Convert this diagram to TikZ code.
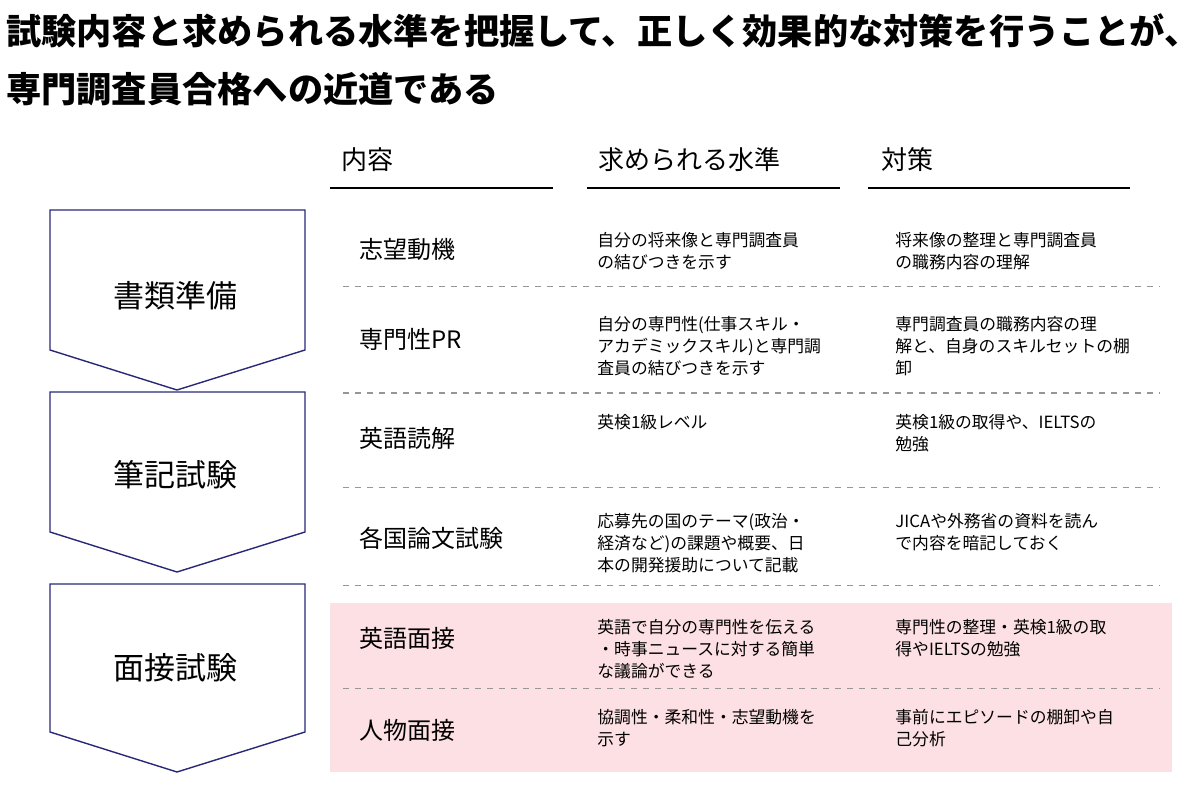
\documentclass[tikz,border=0pt]{standalone}
\usepackage{fontspec}
\setmainfont{Noto Sans CJK JP}
\usetikzlibrary{positioning}
\definecolor{navycolor}{RGB}{40, 40, 120}
\definecolor{pinkcolor}{RGB}{253, 224, 227}
\definecolor{rulecolor}{RGB}{150, 150, 150}
\tikzset{
  chev/.style={draw=navycolor, line width=0.7pt, fill=white},
  head/.style={anchor=west, font=\fontsize{13}{15}\selectfont},
  item/.style={anchor=west, font=\fontsize{12}{15}\selectfont},
  step label/.style={anchor=center, font=\fontsize{15.5}{18}\selectfont},
  desc/.style={anchor=north west, align=left, font=\fontsize{8.4}{11}\selectfont, inner sep=0pt},
  sep/.style={draw=rulecolor, dashed, line width=0.5pt}
}
\begin{document}
\begin{tikzpicture}[x=0.5pt, y=-0.5pt]
    \useasboundingbox (0,0) rectangle (1200,786);
    % Title
    \node[anchor=west, inner sep=0pt, font=\fontsize{17.6}{20}\selectfont\bfseries] (t1) at (6,31) {試験内容と求められる水準を把握して、正しく効果的な対策を行うことが、};
    \node[anchor=west, inner sep=0pt, font=\fontsize{17.6}{20}\selectfont\bfseries] (t2) at (6,89) {専門調査員合格への近道である};
    
    % Highlight
    \fill[pinkcolor] (330,603) rectangle (1172,772);
    
    % Headers
    \node[head] (h1) at (334,160) {内容};
    \node[head] (h2) at (591,160) {求められる水準};
    \node[head] (h3) at (874,160) {対策};
    \draw[line width=0.8pt] (330,188) -- (553,188);
    \draw[line width=0.8pt] (587,188) -- (840,188);
    \draw[line width=0.8pt] (868,188) -- (1130,188);
    
    % Chevrons
    \draw[chev] (50,210) -- (305,210) -- (305,350) -- (177,390) -- (50,350) -- cycle;
    \draw[chev] (50,392) -- (305,392) -- (305,532) -- (177,572) -- (50,532) -- cycle;
    \draw[chev] (50,584) -- (305,584) -- (305,732) -- (177,772) -- (50,732) -- cycle;
    \node[step label] (s1) at (175,296) {書類準備};
    \node[step label] (s2) at (175,475) {筆記試験};
    \node[step label] (s3) at (175,668) {面接試験};
    
    % Separators
    \foreach \y in {287,393,487,585,688}
        \draw[sep] (343,\y) -- (1160,\y);
    
    % Rows
    \node[item] (r1) at (352,249) {志望動機};
    \node[item] (r2) at (352,339) {専門性PR};
    \node[item] (r3) at (352,438) {英語読解};
    \node[item] (r4) at (352,538) {各国論文試験};
    \node[item] (r5) at (352,638) {英語面接};
    \node[item] (r6) at (352,730) {人物面接};
    
    \node[desc] (l1) at (597,232) {自分の将来像と専門調査員\\の結びつきを示す};
    \node[desc] (l2) at (597,316) {自分の専門性(仕事スキル・\\アカデミックスキル)と専門調\\査員の結びつきを示す};
    \node[desc] (l3) at (597,414) {英検1級レベル};
    \node[desc] (l4) at (597,513) {応募先の国のテーマ(政治・\\経済など)の課題や概要、日\\本の開発援助について記載};
    \node[desc] (l5) at (597,619) {英語で自分の専門性を伝える\\・時事ニュースに対する簡単\\な議論ができる};
    \node[desc] (l6) at (597,709) {協調性・柔和性・志望動機を\\示す};
    
    \node[desc] (m1) at (895,232) {将来像の整理と専門調査員\\の職務内容の理解};
    \node[desc] (m2) at (895,316) {専門調査員の職務内容の理\\解と、自身のスキルセットの棚\\卸};
    \node[desc] (m3) at (895,414) {英検1級の取得や、IELTSの\\勉強};
    \node[desc] (m4) at (895,513) {JICAや外務省の資料を読ん\\で内容を暗記しておく};
    \node[desc] (m5) at (895,619) {専門性の整理・英検1級の取\\得やIELTSの勉強};
    \node[desc] (m6) at (895,709) {事前にエピソードの棚卸や自\\己分析};
\end{tikzpicture}
\end{document}
